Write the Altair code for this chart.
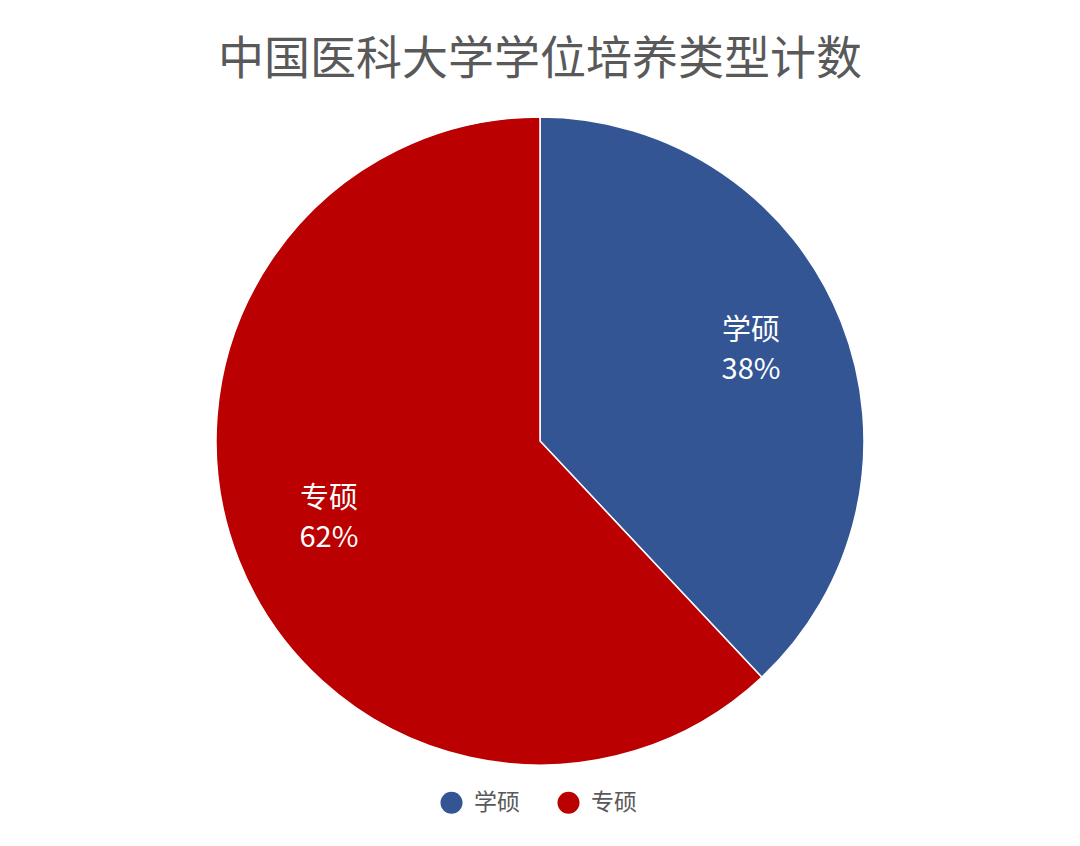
import altair as alt
import pandas as pd

categories = ["学硕", "专硕"]
values = [38, 62]
colors = ["#335593", "#BA0000"]
title_text = "中国医科大学学位培养类型计数"

df = pd.DataFrame({
    "type": categories,
    "value": values,
    "order": list(range(len(categories))),
})
df["label"] = [f"{c}\n{v}%" for c, v in zip(df["type"], df["value"])]

FONT = "Noto Sans CJK SC"
CX, CY = 532, 433

base = alt.Chart(df).encode(
    theta=alt.Theta("value:Q", stack=True),
    order=alt.Order("order:Q"),
)

pie = base.mark_arc(outerRadius=324, stroke="white", strokeWidth=1.5).encode(
    x=alt.value(CX),
    y=alt.value(CY),
    color=alt.Color(
        "type:N",
        scale=alt.Scale(domain=categories, range=colors),
        sort=categories,
        legend=alt.Legend(
            title=None,
            orient="none",
            legendX=432,
            legendY=783,
            direction="horizontal",
            symbolType="circle",
            symbolSize=484,
            symbolStrokeWidth=0,
            labelFontSize=23,
            labelFont=FONT,
            labelColor="#595959",
            labelOffset=11,
            columnPadding=37,
            padding=0,
        ),
    ),
)

labels = base.mark_text(
    radius=227,
    dy=-26,
    font=FONT,
    fontSize=29,
    color="white",
    lineBreak="\n",
    lineHeight=39,
    align="center",
    baseline="middle",
).encode(
    x=alt.value(CX),
    y=alt.value(CY),
    text="label:N",
)

title = alt.Chart(pd.DataFrame({"t": [title_text]})).mark_text(
    font=FONT,
    fontSize=46,
    color="#595959",
    align="center",
    baseline="middle",
).encode(
    x=alt.value(CX),
    y=alt.value(52),
    text="t:N",
)

chart = alt.layer(pie, labels, title).properties(
    width=1064,
    height=830,
    padding=0,
    autosize=alt.AutoSizeParams(type="none"),
    background="white",
).configure_view(stroke=None)

chart.save("out.html", embed_options={"renderer": "svg", "actions": False})
